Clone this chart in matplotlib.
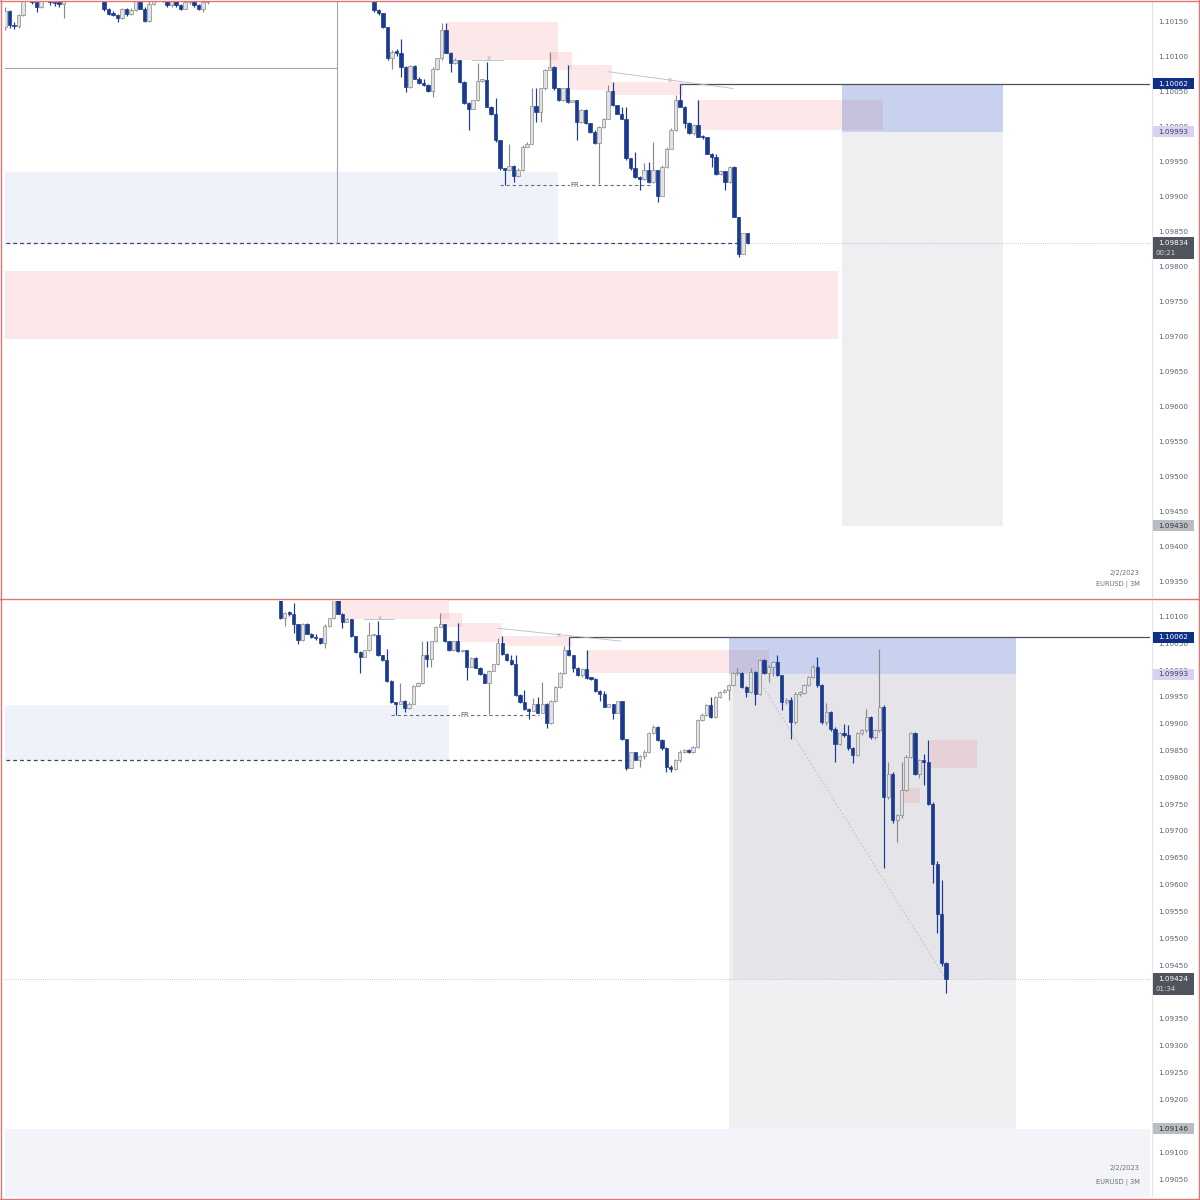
import numpy as np
import matplotlib.pyplot as plt
from matplotlib.patches import Rectangle
from matplotlib.lines import Line2D
from matplotlib.transforms import blended_transform_factory

# EURUSD 3M candles (open of each bar = previous close)
first_open = 1.10143
close_px = [
    # top-left cluster
    1.10165, 1.10146, 1.10144, 1.10160, 1.10183, 1.10195, 1.10178, 1.10172, 1.10185, 1.10190,
    1.10178, 1.10177, 1.10176, 1.10188, 1.10195, 1.10200, 1.10205, 1.10210, 1.10198, 1.10205,
    1.10200, 1.10195, 1.10168, 1.10162, 1.10160, 1.10155, 1.10169, 1.10161, 1.10167, 1.10190,
    1.10169, 1.10152, 1.10176, 1.10190, 1.10198, 1.10180, 1.10174, 1.10185, 1.10174, 1.10169,
    1.10179, 1.10185, 1.10174, 1.10169, 1.10179,
    # above the visible range
    1.10205, 1.10218, 1.10230, 1.10224, 1.10238, 1.10250, 1.10246, 1.10260, 1.10272, 1.10265,
    1.10280, 1.10288, 1.10276, 1.10284, 1.10296, 1.10290, 1.10278, 1.10285, 1.10270, 1.10262,
    1.10268, 1.10255, 1.10248, 1.10256, 1.10242, 1.10236, 1.10244, 1.10230, 1.10222, 1.10228,
    1.10215, 1.10208, 1.10214, 1.10203, 1.10198, 1.10204, 1.10194,
    # sell-off into 1.0983 (first screenshot ends here)
    1.10167, 1.10163, 1.10143, 1.10098, 1.10107, 1.10106, 1.10086, 1.10057, 1.10087, 1.10069,
    1.10063, 1.10060, 1.10052, 1.10083, 1.10098, 1.10138, 1.10106, 1.10091, 1.10096, 1.10064,
    1.10034, 1.10026, 1.10038, 1.10066, 1.10067, 1.10029, 1.10019, 1.09981, 1.09941, 1.09938,
    1.09944, 1.09930, 1.09938, 1.09972, 1.09976, 1.10030, 1.10022, 1.10055, 1.10082, 1.10086,
    1.10055, 1.10038, 1.10055, 1.10036, 1.10038, 1.10007, 1.10024, 1.10005, 1.09993, 1.09977,
    1.10000, 1.10012, 1.10051, 1.10031, 1.10019, 1.10012, 1.09955, 1.09941, 1.09929, 1.09925,
    1.09938, 1.09921, 1.09938, 1.09902, 1.09943, 1.09969, 1.09995, 1.10038, 1.10029, 1.10005,
    1.09991, 1.10003, 1.09986, 1.09985, 1.09962, 1.09957, 1.09933, 1.09937, 1.09921, 1.09943,
    1.09872, 1.09819, 1.09848, 1.09834,
    # continuation in the second screenshot
    1.09840, 1.09849, 1.09883, 1.09895, 1.09870, 1.09855, 1.09821, 1.09817, 1.09833, 1.09849,
    1.09850, 1.09849, 1.09858, 1.09908, 1.09917, 1.09936, 1.09914, 1.09951, 1.09960, 1.09963,
    1.09973, 1.09995, 1.09996, 1.09970, 1.09960, 1.09998, 1.09957, 1.10019, 1.09995, 1.10007,
    1.10016, 1.09991, 1.09942, 1.09945, 1.09904, 1.09957, 1.09959, 1.09973, 1.09988, 1.10007,
    1.09973, 1.09904, 1.09923, 1.09892, 1.09864, 1.09883, 1.09880, 1.09855, 1.09842, 1.09883,
    1.09889, 1.09914, 1.09876, 1.09889, 1.09932, 1.09765, 1.09808, 1.09721, 1.09730, 1.09777,
    1.09839, 1.09883, 1.09808, 1.09833, 1.09830, 1.09752, 1.09640, 1.09547, 1.09454, 1.09424,
]
high_px = [
    1.10172, 1.10167, 1.10150, 1.10162, 1.10190, 1.10200, 1.10198, 1.10182, 1.10190, 1.10195,
    1.10192, 1.10182, 1.10182, 1.10195, 1.10200, 1.10205, 1.10210, 1.10216, 1.10214, 1.10209,
    1.10210, 1.10204, 1.10200, 1.10170, 1.10165, 1.10162, 1.10170, 1.10170, 1.10170, 1.10195,
    1.10195, 1.10172, 1.10180, 1.10195, 1.10200, 1.10200, 1.10185, 1.10190, 1.10188, 1.10176,
    1.10185, 1.10190, 1.10188, 1.10175, 1.10185,
    1.10210, 1.10222, 1.10236, 1.10234, 1.10242, 1.10256, 1.10255, 1.10265, 1.10278, 1.10276,
    1.10284, 1.10294, 1.10292, 1.10289, 1.10302, 1.10300, 1.10293, 1.10290, 1.10288, 1.10274,
    1.10272, 1.10270, 1.10258, 1.10260, 1.10259, 1.10246, 1.10248, 1.10247, 1.10234, 1.10232,
    1.10230, 1.10218, 1.10218, 1.10216, 1.10206, 1.10208, 1.10207,
    1.10196, 1.10168, 1.10163, 1.10143, 1.10110, 1.10112, 1.10126, 1.10087, 1.10088, 1.10088,
    1.10071, 1.10068, 1.10061, 1.10086, 1.10099, 1.10149, 1.10149, 1.10107, 1.10098, 1.10096,
    1.10065, 1.10036, 1.10039, 1.10091, 1.10068, 1.10093, 1.10030, 1.10041, 1.09982, 1.09942,
    1.09976, 1.09945, 1.09941, 1.09974, 1.09979, 1.10056, 1.10056, 1.10056, 1.10083, 1.10107,
    1.10087, 1.10056, 1.10056, 1.10088, 1.10039, 1.10039, 1.10025, 1.10025, 1.10006, 1.09996,
    1.10001, 1.10013, 1.10060, 1.10064, 1.10032, 1.10029, 1.10029, 1.09956, 1.09964, 1.09930,
    1.09948, 1.09950, 1.09979, 1.09939, 1.09945, 1.09971, 1.09998, 1.10045, 1.10062, 1.10030,
    1.10007, 1.10004, 1.10038, 1.09988, 1.09986, 1.09963, 1.09962, 1.09938, 1.09937, 1.09944,
    1.09944, 1.09872, 1.09849, 1.09848,
    1.09842, 1.09852, 1.09885, 1.09898, 1.09897, 1.09872, 1.09857, 1.09824, 1.09835, 1.09852,
    1.09853, 1.09853, 1.09860, 1.09910, 1.09920, 1.09938, 1.09951, 1.09953, 1.09962, 1.09966,
    1.09975, 1.09997, 1.10004, 1.09997, 1.09972, 1.10004, 1.10000, 1.10022, 1.10021, 1.10010,
    1.10018, 1.10030, 1.09991, 1.09948, 1.09951, 1.09960, 1.09962, 1.09975, 1.09990, 1.10010,
    1.10026, 1.09975, 1.09939, 1.09925, 1.09894, 1.09886, 1.09901, 1.09898, 1.09857, 1.09886,
    1.09892, 1.09929, 1.09916, 1.09892, 1.10041, 1.09936, 1.09830, 1.09810, 1.09733, 1.09830,
    1.09842, 1.09886, 1.09885, 1.09836, 1.09845, 1.09870, 1.09755, 1.09645, 1.09610, 1.09457,
]
low_px = [
    1.10138, 1.10141, 1.10140, 1.10142, 1.10158, 1.10180, 1.10176, 1.10164, 1.10170, 1.10184,
    1.10174, 1.10173, 1.10172, 1.10155, 1.10185, 1.10190, 1.10190, 1.10199, 1.10192, 1.10193,
    1.10195, 1.10189, 1.10165, 1.10160, 1.10158, 1.10150, 1.10154, 1.10159, 1.10160, 1.10165,
    1.10168, 1.10150, 1.10150, 1.10174, 1.10188, 1.10178, 1.10172, 1.10172, 1.10172, 1.10167,
    1.10168, 1.10176, 1.10172, 1.10167, 1.10164,
    1.10176, 1.10200, 1.10214, 1.10219, 1.10220, 1.10233, 1.10240, 1.10242, 1.10255, 1.10260,
    1.10262, 1.10275, 1.10270, 1.10272, 1.10280, 1.10285, 1.10272, 1.10274, 1.10266, 1.10257,
    1.10258, 1.10250, 1.10243, 1.10244, 1.10238, 1.10231, 1.10232, 1.10226, 1.10218, 1.10219,
    1.10211, 1.10204, 1.10205, 1.10199, 1.10193, 1.10194, 1.10190,
    1.10164, 1.10160, 1.10142, 1.10096, 1.10083, 1.10102, 1.10071, 1.10050, 1.10056, 1.10068,
    1.10061, 1.10058, 1.10050, 1.10043, 1.10082, 1.10096, 1.10105, 1.10079, 1.10090, 1.10063,
    1.10033, 1.09995, 1.10025, 1.10037, 1.10064, 1.10028, 1.10017, 1.09979, 1.09939, 1.09917,
    1.09937, 1.09922, 1.09929, 1.09937, 1.09971, 1.09975, 1.10007, 1.10007, 1.10053, 1.10081,
    1.10053, 1.10037, 1.10037, 1.10034, 1.10035, 1.09982, 1.10006, 1.10004, 1.09992, 1.09976,
    1.09919, 1.09999, 1.10011, 1.10030, 1.10018, 1.10011, 1.09953, 1.09939, 1.09927, 1.09910,
    1.09924, 1.09920, 1.09920, 1.09893, 1.09901, 1.09941, 1.09968, 1.09994, 1.10028, 1.09998,
    1.09990, 1.09988, 1.09985, 1.09983, 1.09961, 1.09943, 1.09932, 1.09932, 1.09910, 1.09920,
    1.09871, 1.09814, 1.09818, 1.09833,
    1.09821, 1.09836, 1.09847, 1.09881, 1.09868, 1.09852, 1.09811, 1.09810, 1.09815, 1.09830,
    1.09847, 1.09846, 1.09847, 1.09856, 1.09906, 1.09915, 1.09911, 1.09911, 1.09949, 1.09958,
    1.09945, 1.09971, 1.09991, 1.09968, 1.09951, 1.09958, 1.09936, 1.09955, 1.09993, 1.09979,
    1.09990, 1.09989, 1.09926, 1.09938, 1.09873, 1.09900, 1.09953, 1.09956, 1.09971, 1.09986,
    1.09970, 1.09900, 1.09898, 1.09888, 1.09830, 1.09862, 1.09876, 1.09852, 1.09827, 1.09840,
    1.09879, 1.09886, 1.09873, 1.09873, 1.09886, 1.09631, 1.09760, 1.09715, 1.09681, 1.09725,
    1.09775, 1.09837, 1.09805, 1.09800, 1.09786, 1.09749, 1.09603, 1.09510, 1.09450, 1.09398,
]
n_first_shot = 166  # candles visible in the first screenshot

# drawings: (start bar, end bar, upper price, lower price)
supply_zones = [
    (98.2, 122.9, 1.10150, 1.10096),
    (120.9, 126.0, 1.10107, 1.10081),
    (125.0, 134.9, 1.10088, 1.10053),
    (134.9, 150.7, 1.10064, 1.10045),
    (153.8, 195.1, 1.10039, 1.09995),
]
demand_zone = (-5, 122.9, 1.09936, 1.09834)
old_supply_zone = (-5, 185.1, 1.09794, 1.09697)          # first shot only
new_supply_zones = [(231.4, 242.0, 1.09871, 1.09818),     # second shot only
                    (225.3, 229.1, 1.09781, 1.09753)]
low_band = 1.09146

entry, stop = 1.09993, 1.10062
target_1, target_2 = 1.09430, 1.09146
fr_level, fr_span = 1.09917, (110, 143.3)
swing_level, swing_end = 1.09834, 163.5
stop_line_start = 150

y_ticks_1 = [1.10150, 1.10100, 1.10050, 1.10000, 1.09950, 1.09900, 1.09850, 1.09800, 1.09750,
             1.09700, 1.09650, 1.09600, 1.09550, 1.09500, 1.09450, 1.09400, 1.09350]
y_ticks_2 = [1.10100, 1.10050, 1.10000, 1.09950, 1.09900, 1.09850, 1.09800, 1.09750, 1.09700,
             1.09650, 1.09600, 1.09550, 1.09500, 1.09450, 1.09350, 1.09300, 1.09250,
             1.09200, 1.09150, 1.09100, 1.09050]

c = np.array(close_px)
h = np.array(high_px)
l = np.array(low_px)
o = np.r_[first_open, c[:-1]]
bars = np.arange(len(c))

BEAR = "#1a3a8f"
BULL_FACE = "#e2e2e2"
BULL_EDGE = "#8a8a8a"
PINK = (0.94, 0.45, 0.45, 0.16)
LAV = (0.45, 0.52, 0.80, 0.10)
GRID_TXT = "#5d606b"


def px(x, y):
    return x / 1200, 1 - y / 1200


fig = plt.figure(figsize=(12, 12), dpi=100)
fig.patch.set_facecolor("white")


def make_panel(y_top, y_bot, xlim, ylim):
    x0, y0 = px(5, y_bot)
    ax = fig.add_axes([x0, y0, 1145 / 1200, (y_bot - y_top) / 1200])
    ax.set_xlim(*xlim)
    ax.set_ylim(*ylim)
    ax.axis("off")
    xs, ys = px(1152, y_bot)
    sc = fig.add_axes([xs, ys, 45 / 1200, (y_bot - y_top) / 1200])
    sc.set_xlim(0, 1)
    sc.set_ylim(*ylim)
    sc.axis("off")
    ppx = (ylim[1] - ylim[0]) / (y_bot - y_top)
    return ax, sc, ppx


def box(ax, x0, x1, top, bot, color, z=1):
    ax.add_patch(Rectangle((x0, bot), x1 - x0, top - bot, facecolor=color,
                           edgecolor="none", zorder=z))


def candles(ax, n, ppx):
    oo, hh, ll, cc, xx = o[:n], h[:n], l[:n], c[:n], bars[:n]
    up = cc >= oo
    wick = np.where(up, BULL_EDGE, BEAR)
    ax.vlines(xx, ll, hh, colors=wick, lw=0.85, zorder=4)
    lo = np.minimum(oo, cc)
    hgt = np.maximum(np.abs(cc - oo), ppx * 1.5)
    ax.bar(xx[up], hgt[up], bottom=lo[up], width=0.72, color=BULL_FACE,
           edgecolor=BULL_EDGE, linewidth=0.5, zorder=5)
    ax.bar(xx[~up], hgt[~up], bottom=lo[~up], width=0.72, color=BEAR,
           edgecolor=BEAR, linewidth=0.5, zorder=5)


def badge(sc, price, text, face, fg, ppx, up=5.5, down=5.5, sub=None):
    tr = blended_transform_factory(sc.transAxes, sc.transData)
    sc.add_patch(Rectangle((0.03, price - down * ppx), 0.9, (up + down) * ppx,
                           transform=tr, facecolor=face, edgecolor="none",
                           zorder=6, clip_on=False))
    sc.text(0.48, price, text, transform=tr, ha="center", va="center",
            fontsize=5.2, color=fg, zorder=7)
    if sub:
        sc.text(0.3, price - 10 * ppx, sub, transform=tr, ha="center",
                va="center", fontsize=5.0, color="#d8d8dc", zorder=7)


def common(ax, sc, ppx, ticks, x_right):
    for x0, x1, t, b in supply_zones:
        box(ax, x0, x1, t, b, PINK, 2)
    box(ax, *demand_zone, LAV, 1)
    # stop line from the swing high
    ax.hlines(stop, stop_line_start, x_right, color="#4b505a", lw=0.9, zorder=3)
    # swing low ray
    ax.hlines(swing_level, -5, swing_end, color="#34446e", lw=0.9,
              linestyles=(0, (3, 2.5)), zorder=3)
    # FR line
    ax.hlines(fr_level, *fr_span, color="#6b6e76", lw=0.8,
              linestyles=(0, (3, 2.5)), zorder=3)
    ax.text(np.mean(fr_span), fr_level, "FR", ha="center", va="center",
            fontsize=5, color="#555862", zorder=4,
            bbox=dict(boxstyle="square,pad=0.15", fc="white", ec="none"))
    # faint trend lines with x markers
    ax.plot([134, 161.8], [1.10079, 1.10055], color="#b9bcc4", lw=0.6, zorder=3)
    ax.text(147.8, 1.10067, "x", fontsize=5, color="#a8abb3", ha="center",
            va="center", zorder=3)
    ax.plot([103.8, 110.7], [1.10096, 1.10096], color="#b9bcc4", lw=0.6, zorder=3)
    ax.text(107.5, 1.10098, "x", fontsize=5, color="#a8abb3", ha="center",
            va="center", zorder=3)
    # price scale
    sc.axvline(0.0, color="#e0e3eb", lw=0.8)
    for t in ticks:
        sc.text(0.48, t, f"{t:.5f}", ha="center", va="center", fontsize=5.2,
                color=GRID_TXT, zorder=3)
    badge(sc, stop, f"{stop:.5f}", "#0f2f87", "white", ppx)
    badge(sc, entry, f"{entry:.5f}", "#d9d1ef", "#3c3c5a", ppx)


def stamp(ax, y1, y2):
    ax.text(0.991, y1, "2/2/2023", transform=ax.transAxes, ha="right",
            va="center", fontsize=4.8, color="#6a6d75")
    ax.text(0.991, y2, "EURUSD | 3M", transform=ax.transAxes, ha="right",
            va="center", fontsize=4.8, color="#6a6d75")


# ---- first screenshot ----
ax1, sc1, ppx1 = make_panel(1, 598, (0, 1145 / 4.5), (1.093271, 1.10180))
common(ax1, sc1, ppx1, y_ticks_1, 254.5)
box(ax1, *old_supply_zone, PINK, 2)
box(ax1, 186, 221.8, stop, entry, (0.23, 0.36, 0.75, 0.28), 2)
box(ax1, 186, 221.8, entry, target_1, "#efeff2", 1)
ax1.vlines(73.8, swing_level, 1.1019, color="#a2a7b1", lw=0.8, zorder=3)
ax1.hlines(1.10084, -5, 73.8, color="#a2a7b1", lw=0.8, zorder=3)
ax1.axhline(c[n_first_shot - 1], color="#b4b8c0", lw=0.6, ls=(0, (1, 1.5)), zorder=2)
candles(ax1, n_first_shot, ppx1)
badge(sc1, c[n_first_shot - 1], f"{c[n_first_shot - 1]:.5f}", "#50545c", "white",
      ppx1, up=6.5, down=15.5, sub="00:21")
badge(sc1, target_1, f"{target_1:.5f}", "#b9bcc3", "#33353b", ppx1)
stamp(ax1, 0.042, 0.022)

# ---- second screenshot ----
s2 = 4.438
x2 = (5 + 96.9) / s2
ax2, sc2, ppx2 = make_panel(601, 1197, (x2, x2 + 1145 / s2), (1.090183, 1.101298))
common(ax2, sc2, ppx2, y_ticks_2, 290)
for z in new_supply_zones:
    box(ax2, *z, PINK, 2)
box(ax2, -5, 300, low_band, 1.0890, "#f3f4f9", 1)
box(ax2, 186.1, 250.8, stop, entry, (0.23, 0.36, 0.75, 0.28), 2)
box(ax2, 186.1, 250.8, entry, target_2, "#f0f0f2", 1)
box(ax2, 187.0, 250.8, entry, c[-1], "#e4e4e9", 1)
ax2.plot([192, 235], [entry, c[-1]], color="#c2c4cb", lw=0.7, ls=(0, (2, 2)), zorder=3)
ax2.axhline(c[-1], color="#b4b8c0", lw=0.6, ls=(0, (1, 1.5)), zorder=2)
candles(ax2, len(c), ppx2)
badge(sc2, c[-1], f"{c[-1]:.5f}", "#50545c", "white", ppx2, up=6.5, down=15.5,
      sub="01:34")
badge(sc2, target_2, f"{target_2:.5f}", "#b9bcc3", "#33353b", ppx2)
stamp(ax2, 0.049, 0.025)

# red frame around and between the screenshots
red = "#e27676"
for xs, ys in [([0.5, 0.5], [0, 1200]), ([1198.5, 1198.5], [0, 1200]),
               ([0, 1200], [0.7, 0.7]), ([0, 1200], [1198.5, 1198.5]),
               ([0, 1200], [599.5, 599.5])]:
    fig.add_artist(Line2D([x / 1200 for x in xs], [1 - y / 1200 for y in ys],
                          transform=fig.transFigure, color=red, lw=1.0))

fig.savefig("out.png", dpi=100, facecolor="white")
